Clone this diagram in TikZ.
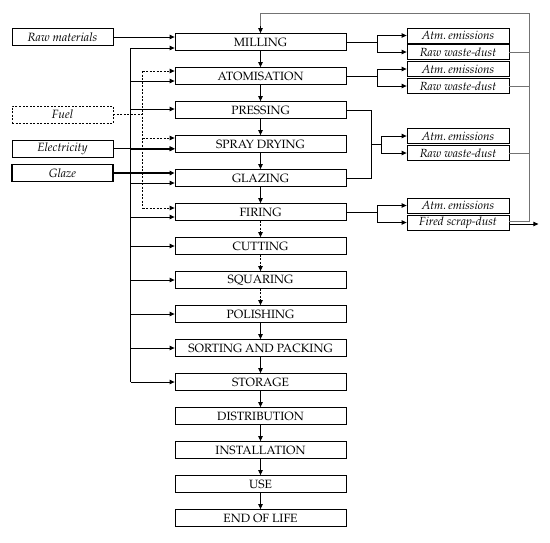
\documentclass[tikz,border=0pt]{standalone}
\usepackage[T1]{fontenc}
\renewcommand{\rmdefault}{ppl}
\usetikzlibrary{arrows.meta,calc}
\tikzset{
  stage/.style={draw, line width=0.8pt, minimum width=171pt, minimum height=17pt, inner sep=0pt, font=\fontsize{12}{12}\selectfont},
  inbox/.style={draw, line width=0.8pt, minimum width=101pt, minimum height=17pt, inner sep=0pt, font=\fontsize{12}{12}\selectfont\itshape},
  outbox/.style={draw, line width=0.8pt, minimum width=102pt, minimum height=15pt, inner sep=0pt, font=\fontsize{11.8}{12}\selectfont\itshape},
  flow/.style={line width=0.8pt, -{Triangle[length=5pt,width=4.5pt]}},
  link/.style={line width=0.8pt},
  shortdash/.style={dash pattern=on 2pt off 1.5pt},
  recyc/.style={line width=0.8pt, draw=black!55},
}
\begin{document}
\begin{tikzpicture}[x=1pt,y=-1pt]
\useasboundingbox (0,0) rectangle (550,542);
% main stages
\node[stage] (mill)  at (260.5,42)  {MILLING};
\node[stage] (atom)  at (260.5,76)  {ATOMISATION};
\node[stage] (press) at (260.5,110) {PRESSING};
\node[stage] (spray) at (260.5,144) {SPRAY DRYING};
\node[stage] (glaz)  at (260.5,178) {GLAZING};
\node[stage] (fir)   at (260.5,212) {FIRING};
\node[stage] (cut)   at (260.5,246) {CUTTING};
\node[stage] (squ)   at (260.5,280) {SQUARING};
\node[stage] (pol)   at (260.5,314) {POLISHING};
\node[stage] (sort)  at (260.5,348) {SORTING AND PACKING};
\node[stage] (stor)  at (260.5,382) {STORAGE};
\node[stage] (dist)  at (260.5,416) {DISTRIBUTION};
\node[stage] (inst)  at (260.5,450) {INSTALLATION};
\node[stage] (use)   at (260.5,484) {USE};
\node[stage] (eol)   at (260.5,518) {END OF LIFE};
% inputs
\node[inbox] (raw)  at (62.5,37)  {Raw materials};
\node[inbox,shortdash] (fuel) at (62.5,114.5) {Fuel};
\node[inbox] (elec) at (62.5,148.5) {Electricity};
\node[inbox,line width=1.6pt] (glaze) at (62.5,173) {Glaze};
% outputs
\node[outbox] (atm1) at (458,35.5) {Atm.\,emissions};
\node[outbox] (wst1) at (458,52)   {Raw waste-dust};
\node[outbox] (atm2) at (458,69)   {Atm.\,emissions};
\node[outbox] (wst2) at (458,86)   {Raw waste-dust};
\node[outbox] (atm3) at (458,136)  {Atm.\,emissions};
\node[outbox] (wst3) at (458,153)  {Raw waste-dust};
\node[outbox] (atm4) at (458,205.5){Atm.\,emissions};
\node[outbox] (scrap) at (458,222.5){Fired scrap-dust};
% vertical flow
\foreach \a/\b in {mill/atom,atom/press,press/spray,spray/glaz,glaz/fir,pol/sort,sort/stor,stor/dist,dist/inst,inst/use,use/eol}
  \draw[flow] (\a.south) -- (\b.north);
\foreach \a/\b in {fir/cut,cut/squ,squ/pol}
  \draw[flow,shortdash] (\a.south) -- (\b.north);
% raw materials
\draw[flow] (raw.east) -- (raw.east -| mill.west);
% solid bus
\coordinate (busTop) at ($(mill.west)+(-44,6)$);
\coordinate (busBot) at (stor.west -| busTop);
\draw[link] (busTop) -- (busBot);
\foreach \n/\dy in {mill/6,atom/5,press/-1,spray/5,glaz/5,fir/5,cut/0,squ/0,pol/0,sort/0,stor/0}{
  \path ($(\n.west)+(0,\dy)$) coordinate (t);
  \draw[flow] (t -| busTop) -- (t);
}
% dashed bus (fuel)
\coordinate (dTop) at ($(atom.west)+(-32,-5)$);
\coordinate (dBot) at ($(fir.west)+(-32,-4)$);
\draw[link,shortdash] (dTop) -- (dBot);
\draw[link,shortdash] (fuel.east) -- (fuel.east -| dTop);
\foreach \n/\dy in {atom/-5,spray/-6,fir/-4}{
  \path ($(\n.west)+(0,\dy)$) coordinate (t);
  \draw[flow,shortdash] (t -| dTop) -- (t);
}
% electricity and glaze
\draw[flow] (elec.east) -- (elec.east -| spray.west);
\draw[flow,line width=1.3pt] (glaze.east) -- (glaze.east -| glaz.west);
% outputs
\draw[link,line width=1pt] (mill.east) -- ++(31,0) coordinate (s1);
\draw[flow] (s1) |- (atm1.west);
\draw[flow] (s1) |- (wst1.west);
\draw[link,line width=1pt] (atom.east) -- ++(31,0) coordinate (s2);
\draw[flow] (s2) |- (atm2.west);
\draw[flow] (s2) |- (wst2.west);
\draw[link] (press.east) -- ++(25,0) coordinate (pj) |- (glaz.east);
\coordinate (s3) at ($(atm3.west)!0.5!(wst3.west)+(-25,0)$);
\draw[link] (s3 -| pj) -- (s3);
\draw[flow] (s3) |- (atm3.west);
\draw[flow] (s3) |- (wst3.west);
\draw[link] (fir.east) -- ++(31,0) coordinate (s4);
\draw[flow] (s4) |- (atm4.west);
\draw[flow] (s4) |- (scrap.west);
% recycling loop
\coordinate (rx) at (529,0);
\coordinate (rtop) at ($(mill.north)+(0,-20)$);
\foreach \n in {wst1,wst2,wst3}
  \draw[recyc,line width=0.5pt] (\n.east) -- (\n.east -| rx);
\draw[recyc] ($(scrap.east)+(0,-0.8)$) coordinate (se) -- (se -| rx) -- (rx |- rtop) -- (rtop) -- ($(mill.north)+(0,-6)$);
\draw[flow] ($(mill.north)+(0,-7)$) -- (mill.north);
\draw[flow] ($(scrap.east)+(0,1.5)$) -- ++(29,0);
\end{tikzpicture}
\end{document}
